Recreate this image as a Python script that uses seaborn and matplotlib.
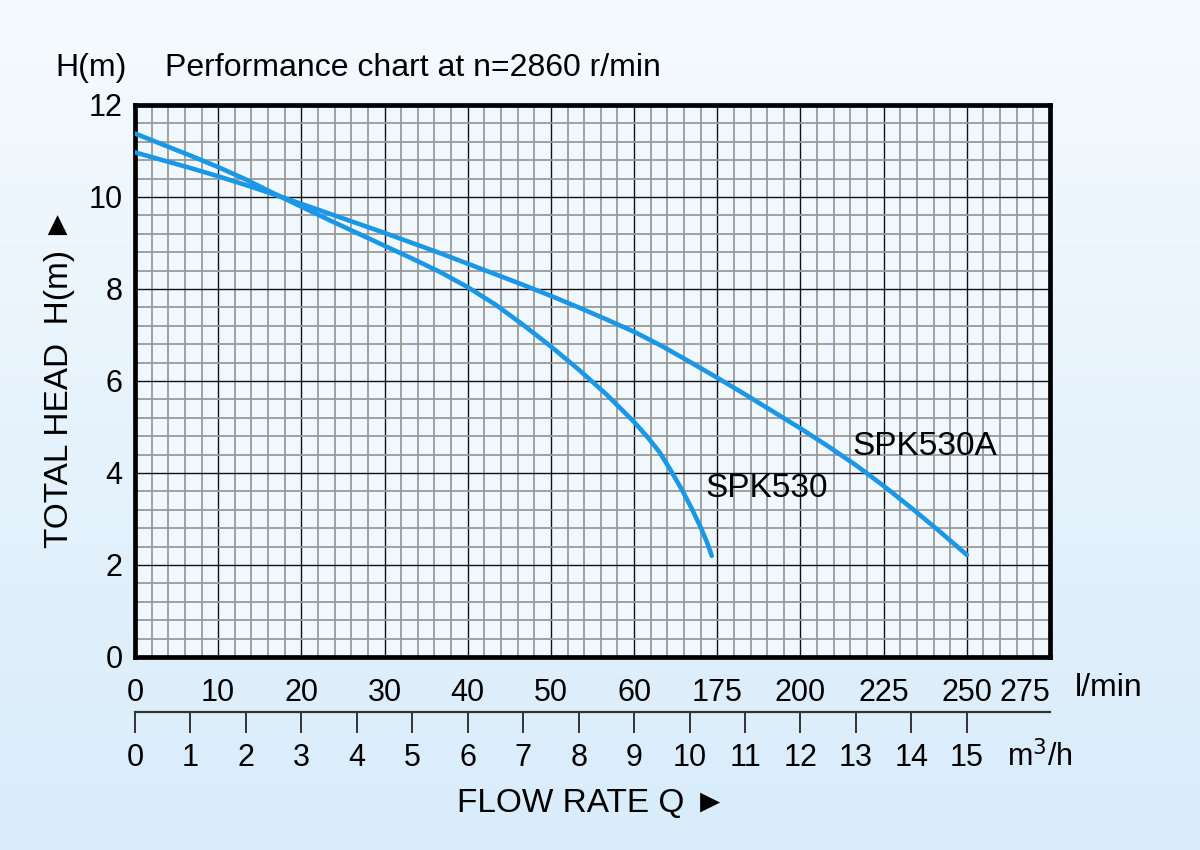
"""Pump performance chart SPK530 / SPK530A."""
import matplotlib; matplotlib.use("Agg")
import numpy as np
import pandas as pd
import matplotlib.pyplot as plt
from matplotlib.ticker import MultipleLocator, FixedLocator, FixedFormatter
from matplotlib.colors import LinearSegmentedColormap
import seaborn as sns

# flow in m3/h, head in m
q_spk530 = [0, 0.5, 1.0, 1.5, 2.0, 2.5, 3.0, 3.5, 4.0, 4.5, 5.0, 5.5, 6.0, 6.5, 7.0,
            7.5, 8.0, 8.5, 9.0, 9.25, 9.46, 9.64, 9.87, 10.05, 10.2, 10.32, 10.4]
h_spk530 = [11.38, 11.14, 10.9, 10.65, 10.38, 10.08, 9.79, 9.5, 9.22, 8.94, 8.66, 8.37, 8.04,
            7.66, 7.22, 6.75, 6.25, 5.71, 5.11, 4.77, 4.45, 4.1, 3.62, 3.2, 2.82, 2.48, 2.2]
q_spk530a = [0, 0.5, 1.0, 1.5, 2.0, 2.5, 3.0, 3.5, 4.0, 4.5, 5.0, 5.5, 6.0, 6.5, 7.0, 7.5,
             8.0, 8.5, 9.0, 9.5, 10.0, 10.5, 11.0, 11.5, 12.0, 12.5, 13.0, 13.5, 14.0, 14.5, 15.0]
h_spk530a = [10.97, 10.8, 10.63, 10.45, 10.26, 10.06, 9.85, 9.64, 9.43, 9.22, 9.0, 8.78, 8.55,
             8.32, 8.09, 7.85, 7.6, 7.34, 7.07, 6.76, 6.42, 6.07, 5.71, 5.34, 4.97, 4.58, 4.17,
             3.72, 3.24, 2.74, 2.22]

lmin_labels = ["0", "10", "20", "30", "40", "50", "60", "175", "200", "225", "250", "275"]
m3h_ticks = list(range(16))
head_ticks = [0, 2, 4, 6, 8, 10, 12]

BLUE = "#1a97e6"
INK = "#000000"

df = pd.concat([
    pd.DataFrame({"Q": q_spk530, "H": h_spk530, "model": "SPK530"}),
    pd.DataFrame({"Q": q_spk530a, "H": h_spk530a, "model": "SPK530A"}),
])

sns.set_theme(style="white")
plt.rcParams["font.family"] = ["Liberation Sans", "DejaVu Sans"]
plt.rcParams["text.color"] = INK

fig = plt.figure(figsize=(12, 8.5), dpi=100)

# background gradient
bg = fig.add_axes([0, 0, 1, 1], zorder=-10)
grad = np.linspace(0, 1, 256)[:, None]
cm = LinearSegmentedColormap.from_list("bg", ["#f5fafe", "#d8ecfa"])
bg.imshow(grad, aspect="auto", cmap=cm, extent=[0, 1, 0, 1])
bg.axis("off")

L, R, B, T = 135 / 1200, 1050 / 1200, 1 - 657 / 850, 1 - 105 / 850
ax = fig.add_axes([L, B, R - L, T - B])
ax.set_facecolor("#f0f8fe")

sns.lineplot(data=df, x="Q", y="H", units="model", estimator=None, color=BLUE,
             lw=3.3, ax=ax, legend=False, zorder=5)

ax.set_xlim(0, 16.5)
ax.set_ylim(0, 12)
ax.xaxis.set_major_locator(FixedLocator([1.5 * i for i in range(12)]))
ax.xaxis.set_major_formatter(FixedFormatter(lmin_labels))
ax.xaxis.set_minor_locator(MultipleLocator(0.3))
ax.yaxis.set_major_locator(FixedLocator(head_ticks))
ax.yaxis.set_minor_locator(MultipleLocator(0.4))
ax.grid(which="minor", color="#999999", lw=1.3, zorder=0)
ax.grid(which="major", color="#111111", lw=1.0, zorder=1)
ax.set_axisbelow(True)
ax.tick_params(axis="both", which="both", length=0, labelsize=22, colors=INK)
ax.tick_params(axis="x", pad=15)
ax.tick_params(axis="y", pad=9)
ax.get_xticklabels()[-1].set_ha("right")
for s in ax.spines.values():
    s.set_linewidth(3.4)
    s.set_color(INK)
ax.set_xlabel("")
ax.set_ylabel("")

ax.text(10.28, 3.67, "SPK530", fontsize=24, va="center", ha="left", zorder=6)
ax.text(12.94, 4.57, "SPK530A", fontsize=24, va="center", ha="left", zorder=6)

# second flow scale in m3/h
ax2 = fig.add_axes([L, 1 - 712 / 850, R - L, 0.0001])
ax2.set_facecolor("none")
ax2.set_xlim(0, 16.5)
ax2.set_yticks([])
for k in ["top", "left", "right"]:
    ax2.spines[k].set_visible(False)
ax2.spines["bottom"].set_color("#333333")
ax2.spines["bottom"].set_linewidth(1.6)
ax2.set_xticks(m3h_ticks)
ax2.set_xticklabels([str(t) for t in m3h_ticks])
ax2.tick_params(axis="x", bottom=True, direction="out", length=15, width=1.4,
                color="#333333", labelsize=22, pad=7, labelcolor=INK)

fig.text(1075 / 1200, 1 - 688 / 850, "l/min", fontsize=23, va="center", ha="left")
fig.text(1007 / 1200, 1 - 757 / 850, "m$^3$/h", fontsize=22, va="center", ha="left")
fig.text(592 / 1200, 1 - 803 / 850, "FLOW RATE Q \u25ba", fontsize=24, va="center", ha="center")
fig.text(55 / 1200, 1 - 68 / 850, "H(m)", fontsize=23, va="center", ha="left")
fig.text(165 / 1200, 1 - 68 / 850, "Performance chart at n=2860 r/min", fontsize=23,
         va="center", ha="left")
fig.text(60 / 1200, 1 - 378 / 850, "TOTAL HEAD  H(m) \u25ba", fontsize=24, rotation=90,
         va="center", ha="center")

fig.savefig("out.png", dpi=100)
